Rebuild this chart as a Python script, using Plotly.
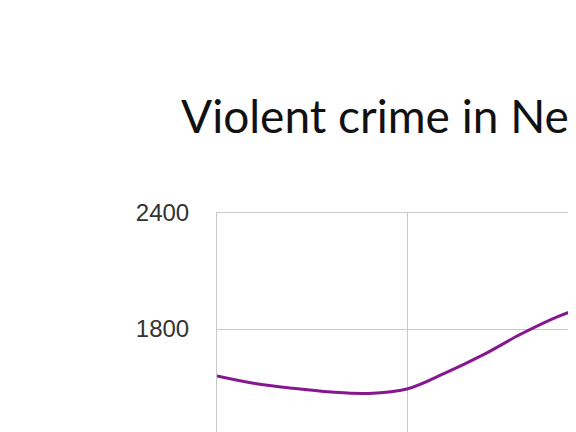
import plotly.graph_objects as go

# yearly values (x axis labels are outside the visible crop)
years = [2000, 2001, 2002, 2003, 2004, 2005, 2006, 2007, 2008, 2009, 2010]
violent_crime = [1557, 1518, 1493, 1474, 1467, 1490, 1572, 1666, 1774, 1867, 1935]

y_ticks = [1200, 1800, 2400]

# page body has an 8px margin, so the figure is drawn 8px smaller and everything is shifted
W, H = 568, 424
L, T = 209, 205

fig = go.Figure()

fig.add_trace(go.Scatter(
    x=years,
    y=violent_crime,
    mode='lines',
    line=dict(color='#86178f', width=3, shape='spline', smoothing=1.0),
    showlegend=False,
    hoverinfo='x+y'
))

fig.update_layout(
    width=W,
    height=H,
    margin=dict(l=L, r=0, t=T, b=0),
    paper_bgcolor='white',
    plot_bgcolor='white',
    title=dict(
        text='Violent crime in New Zealand',
        xref='container', yref='container',
        x=173 / W, y=1 - 109 / H,
        xanchor='left', yanchor='middle',
        font=dict(family='Lato', size=46, color='#111111')
    )
)

fig.update_xaxes(
    range=[2000, 2000 + 359 / 38],
    tick0=2000,
    dtick=5,
    side='top',
    showgrid=True,
    gridcolor='#c8c8c8',
    gridwidth=1,
    zeroline=False,
    showline=True,
    linecolor='#c8c8c8',
    linewidth=1,
    showticklabels=False
)

fig.update_yaxes(
    range=[2400 - 219 * 600 / 116, 2400],
    tickvals=y_ticks,
    showgrid=True,
    gridcolor='#c8c8c8',
    gridwidth=1,
    zeroline=False,
    showline=True,
    linecolor='#c8c8c8',
    linewidth=1,
    ticklabelstandoff=22,
    tickfont=dict(family='Liberation Sans', size=24, color='#333333')
)

fig.write_html("out.html")
